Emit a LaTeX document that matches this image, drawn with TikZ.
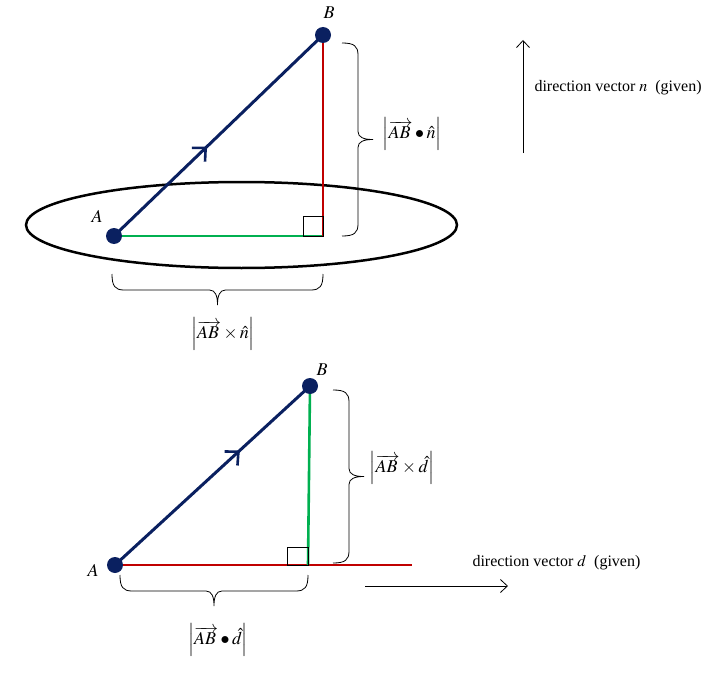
\documentclass[tikz,border=0pt]{standalone}
\usepackage{mathptmx}
\usepackage{fontspec}
\setmainfont{Liberation Serif}
\usetikzlibrary{arrows.meta, decorations.markings, positioning}
\definecolor{vecblue}{RGB}{10,32,96}
\definecolor{projred}{RGB}{192,0,0}
\definecolor{projgreen}{RGB}{0,176,80}
\tikzset{
  dot/.style={circle, fill=vecblue, inner sep=0pt, minimum width=16pt, minimum height=15pt},
  vecline/.style={vecblue, line width=3pt, postaction={decorate},
    decoration={markings, mark=at position #1 with {\arrow{Straight Barb[length=10pt,width=19pt,line width=2.6pt]}}}},
  redline/.style={projred, line width=2.6pt},
  greenline/.style={projgreen, line width=2.6pt},
  bracestroke/.style={line width=0.8pt},
  dirarrow/.style={-{Straight Barb[length=7pt,width=13pt]}, line width=0.8pt},
  ptlabel/.style={font=\fontsize{18}{21}\selectfont},
  formula/.style={font=\fontsize{18}{21}\selectfont},
}
% brace with its tip to the right: x, top y, bottom y
\newcommand{\vbrace}[3]{%
  \draw[bracestroke] (#1,#2) .. controls ({#1+12},#2) and ({#1+16},{#2+3}) .. ({#1+16},{#2+12})
    -- ({#1+16},{(#2+#3)/2-8}) .. controls ({#1+16},{(#2+#3)/2-2}) and ({#1+22},{(#2+#3)/2}) .. ({#1+31},{(#2+#3)/2})
    .. controls ({#1+22},{(#2+#3)/2}) and ({#1+16},{(#2+#3)/2+2}) .. ({#1+16},{(#2+#3)/2+8})
    -- ({#1+16},{#3-12}) .. controls ({#1+16},{#3-3}) and ({#1+12},#3) .. (#1,#3);}
% brace with its tip downwards: y, left x, right x
\newcommand{\hbrace}[3]{%
  \draw[bracestroke] (#2,#1) .. controls (#2,{#1+12}) and ({#2+3},{#1+16}) .. ({#2+12},{#1+16})
    -- ({(#2+#3)/2-8},{#1+16}) .. controls ({(#2+#3)/2-2},{#1+16}) and ({(#2+#3)/2},{#1+22}) .. ({(#2+#3)/2},{#1+31})
    .. controls ({(#2+#3)/2},{#1+22}) and ({(#2+#3)/2+2},{#1+16}) .. ({(#2+#3)/2+8},{#1+16})
    -- ({#3-12},{#1+16}) .. controls ({#3-3},{#1+16}) and (#3,{#1+12}) .. (#3,#1);}

\begin{document}
\begin{tikzpicture}[x=1pt, y=-1pt, font=\fontsize{16}{19}\selectfont]
  \useasboundingbox (0,0) rectangle (710,677);

  % plane with normal n
  \draw[line width=2.5pt] (241.5,225) ellipse (215.5 and 43);
  \coordinate (A1) at (114,236);
  \coordinate (B1) at (323,35);
  \coordinate (F1) at (323,236); % foot
  \draw[greenline] (A1) -- (F1);
  \draw[redline] (B1) -- (F1);
  \draw[line width=0.8pt] (F1) rectangle ++(-20,-20);
  \draw[vecline=0.445] (A1) -- (B1);
  \node[dot] (dotA1) at (A1) {};
  \node[dot] (dotB1) at (B1) {};
  \node[ptlabel] (labA1) at (97,216) {$A$};
  \node[ptlabel] (labB1) at (329,13) {$B$};

  \vbrace{342}{43}{236}
  \node[formula] (dotn) at (412,134) {$\left|\overrightarrow{AB\,}\bullet\hat{n}\right|$};
  \hbrace{274}{112}{323}
  \node[formula] (crossn) at (223,334) {$\left|\overrightarrow{AB\,}\times\hat{n}\right|$};

  \coordinate (n0) at (523,153);
  \coordinate (n1) at (523,40);
  \draw[dirarrow] (n0) -- (n1);
  \node[anchor=west] (ntext) at (531,88) {direction vector $n$\ \ (given)};

  % line with direction d
  \coordinate (A2) at (115,565);
  \coordinate (B2) at (310,386);
  \coordinate (F2) at (308,565); % foot
  \coordinate (E2) at (412,565);
  \draw[redline] (A2) -- (E2);
  \draw[greenline] (B2) -- (F2);
  \draw[line width=0.8pt] (F2) rectangle ++(-21,-18);
  \draw[vecline=0.64] (A2) -- (B2);
  \node[dot] (dotA2) at (A2) {};
  \node[dot] (dotB2) at (B2) {};
  \node[ptlabel] (labA2) at (93,570) {$A$};
  \node[ptlabel] (labB2) at (322,370) {$B$};

  \vbrace{333}{390}{563}
  \node[formula] (crossd) at (402,468) {$\left|\overrightarrow{AB\,}\times\hat{d}\right|$};
  \hbrace{575}{120}{308}
  \node[formula] (dotd) at (218,640) {$\left|\overrightarrow{AB\,}\bullet\hat{d}\right|$};

  \coordinate (d0) at (365,586);
  \coordinate (d1) at (508,586);
  \draw[dirarrow] (d0) -- (d1);
  \node[anchor=west] (dtext) at (469,563) {direction vector $d$\ \ (given)};
\end{tikzpicture}
\end{document}
